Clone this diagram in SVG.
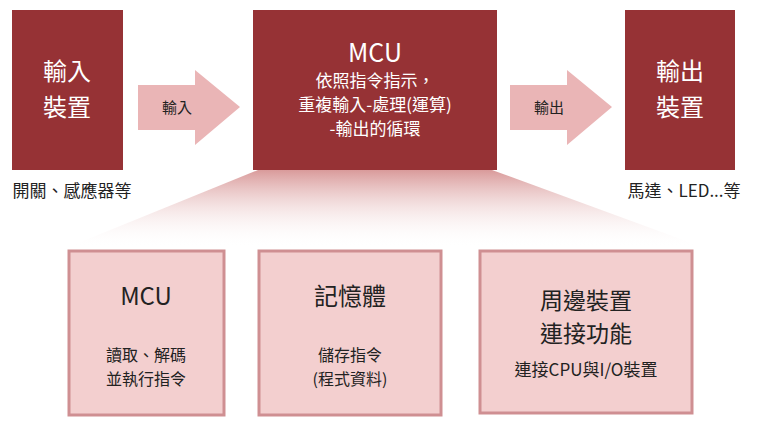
<svg xmlns="http://www.w3.org/2000/svg" width="768" height="428" viewBox="0 0 768 428">
<defs>
<linearGradient id="fan" x1="0" y1="0" x2="0" y2="1"><stop offset="0" stop-color="#d99a9a"/><stop offset="1" stop-color="#fff" stop-opacity="0"/></linearGradient>
<style>
.dk{fill:#963235}
.lt{fill:#f3cfcf;stroke:#cf8f92;stroke-width:3}
.ar{fill:#eab5b6}
text{font-family:"Noto Sans CJK TC","Liberation Sans",sans-serif;text-anchor:middle}
.w{fill:#fff}
.b{fill:#222}
</style>
</defs>
<rect width="768" height="428" fill="#fff"/>
<polygon points="258,170 492,170 705,248 66,248" fill="url(#fan)"/>
<g id="connectors">
<polygon class="ar" points="138,85 195,85 195,70 240,107 195,145 195,130 138,130"/>
<text x="177" y="113" font-size="15" class="b">輸入</text>
<polygon class="ar" points="510,85 567,85 567,70 612,107 567,145 567,130 510,130"/>
<text x="549" y="113" font-size="15" class="b">輸出</text>
</g>
<g id="in"><rect class="dk" x="12" y="10" width="111" height="160"/>
<text class="w" x="67" y="80" font-size="24">輸入</text><text class="w" x="67" y="116" font-size="24">裝置</text>
<text class="b" x="72" y="197" font-size="17">開關、感應器等</text></g>
<g id="mcu"><rect class="dk" x="253" y="10" width="244" height="160"/>
<text class="w" x="375" y="62" font-size="25">MCU</text>
<text class="w" x="375" y="87" font-size="17">依照指令指示，</text>
<text class="w" x="375" y="111" font-size="17">重複輸入-處理(運算)</text>
<text class="w" x="375" y="135" font-size="17">-輸出的循環</text></g>
<g id="out"><rect class="dk" x="625" y="10" width="110" height="160"/>
<text class="w" x="680" y="80" font-size="24">輸出</text><text class="w" x="680" y="116" font-size="24">裝置</text>
<text class="b" x="684" y="197" font-size="17">馬達、LED...等</text></g>
<g id="b1"><rect class="lt" x="69" y="251" width="155" height="164"/>
<text class="b" x="146" y="305" font-size="24">MCU</text>
<text class="b" x="146" y="361" font-size="16">讀取、解碼</text><text class="b" x="146" y="385" font-size="16">並執行指令</text></g>
<g id="b2"><rect class="lt" x="259" y="251" width="182" height="164"/>
<text class="b" x="350" y="305" font-size="24">記憶體</text>
<text class="b" x="350" y="361" font-size="16">儲存指令</text><text class="b" x="350" y="385" font-size="16">(程式資料)</text></g>
<g id="b3"><rect class="lt" x="480" y="251" width="212" height="162"/>
<text class="b" x="586" y="309" font-size="23">周邊裝置</text>
<text class="b" x="586" y="342" font-size="23">連接功能</text>
<text class="b" x="586" y="376" font-size="17">連接CPU與I/O裝置</text></g>
</svg>
